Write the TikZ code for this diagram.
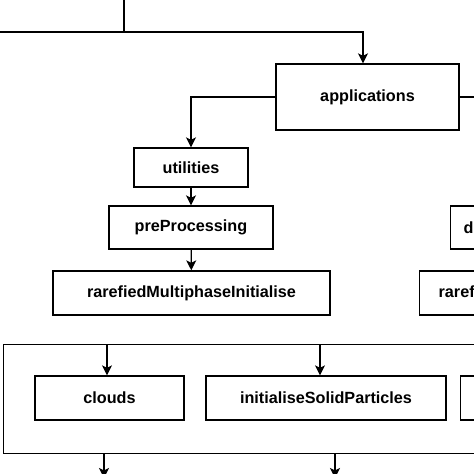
\documentclass[tikz,border=0pt]{standalone}
\usepackage{fontspec}
\setmainfont{Liberation Sans}
\usetikzlibrary{arrows.meta}
\tikzset{
  modbox/.style={draw, rectangle, line width=1.3pt, inner sep=0pt, minimum height=44pt,
    font=\bfseries\fontsize{16.2}{19}\selectfont},
  wire/.style={line width=1.3pt},
  link/.style={line width=1.3pt, -{Stealth[length=10pt,width=10pt,inset=2.5pt]}}
}
\begin{document}
\begin{tikzpicture}[x=1pt,y=-1pt]
\useasboundingbox (0,0) rectangle (474,474);
\clip (0,0) rectangle (474,474);
% incoming lines from the part above
\coordinate (feed) at (124,-5);
\coordinate (split) at (124,32);
\coordinate (offleft) at (-5,32);
\coordinate (offright) at (485,97);
% applications branch
\node[modbox, minimum width=183pt, minimum height=66pt] (apps) at (367.5,97) {applications};
\node[modbox, minimum width=114pt, minimum height=39pt] (utils) at (191,167.5) {utilities};
\node[modbox, minimum width=164pt, minimum height=43pt] (prepro) at (191,227.5) {preProcessing};
\node[modbox, minimum width=277pt] (rmInit) at (191.5,293) {rarefiedMultiphaseInitialise};
% right branch, cut off by the edge
\node[modbox, anchor=west, minimum height=43pt, inner xsep=13pt] (discr) at (450,227.5) {discreteMethods};
\node[modbox, anchor=west, inner xsep=19pt] (rmFoam) at (419,293) {rarefiedMultiphaseFoam};
% container of the lower modules
\node[draw, line width=1.3pt, inner sep=0pt, anchor=north west, minimum width=540pt, minimum height=109pt] (pkg) at (3,344) {};
\node[modbox, minimum width=149pt] (clouds) at (109.5,398) {clouds};
\node[modbox, minimum width=240pt] (initSP) at (326,398) {initialiseSolidParticles};
\node[modbox, anchor=west, minimum width=120pt] (nextMod) at (460,398) {};
\coordinate (dropA) at (107,344);
\coordinate (dropB) at (320,344);
\coordinate (outA) at (104,478);
\coordinate (outB) at (335,478);
% connectors
\draw[wire] (feed) -- (split);
\draw[wire] (offleft) -- (split);
\draw[link] (split) -| ([xshift=-4.5pt]apps.north);
\draw[wire] (apps.east) -- (offright);
\draw[link] (apps.west) -| (utils.north);
\draw[link] (utils) -- (prepro);
\draw[link] (prepro) -- (rmInit);
\draw[link] (dropA) -- (dropA |- clouds.north);
\draw[link] (dropB) -- (dropB |- initSP.north);
\draw[link] (pkg.south -| outA) -- (outA);
\draw[link] (pkg.south -| outB) -- (outB);
\end{tikzpicture}
\end{document}
